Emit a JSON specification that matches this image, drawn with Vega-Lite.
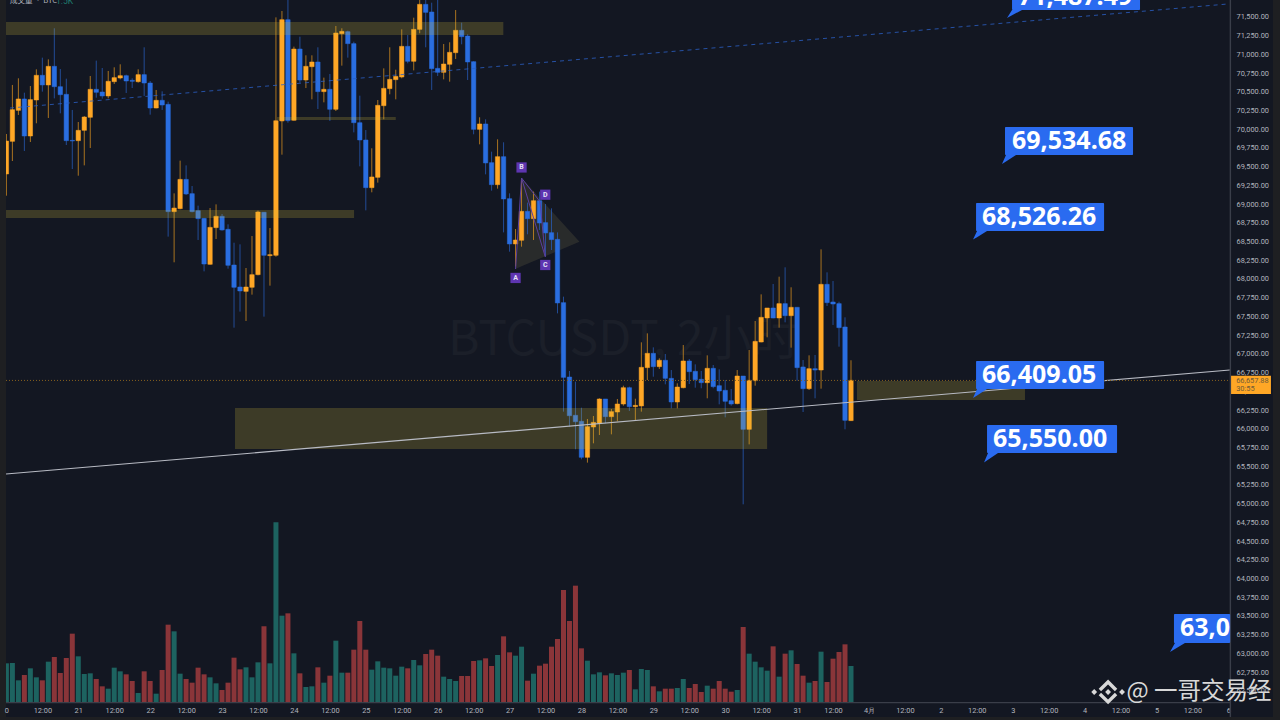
{"$schema":"https://vega.github.io/schema/vega-lite/v6.json","width":1267,"height":717,"autosize":"none","padding":{"left":6,"right":7,"top":0,"bottom":3},"background":"#1e1f22","config":{"view":{"fill":"#131722","stroke":null},"font":"Roboto"},
"datasets":{
"candles":[
{"t":"2024-03-20T00:00Z","o":69403,"h":69937,"l":69113,"c":69843,"v":118,"d":"up"},
{"t":"2024-03-20T02:00Z","o":69839,"h":70592,"l":69576,"c":70262,"v":119,"d":"up"},
{"t":"2024-03-20T04:00Z","o":70253,"h":70681,"l":70191,"c":70405,"v":67,"d":"up"},
{"t":"2024-03-20T06:00Z","o":70405,"h":70489,"l":69710,"c":69910,"v":83,"d":"down"},
{"t":"2024-03-20T08:00Z","o":69910,"h":70578,"l":69830,"c":70396,"v":103,"d":"up"},
{"t":"2024-03-20T10:00Z","o":70391,"h":70801,"l":70080,"c":70721,"v":76,"d":"up"},
{"t":"2024-03-20T12:00Z","o":70721,"h":70957,"l":70503,"c":70592,"v":67,"d":"down"},
{"t":"2024-03-20T14:00Z","o":70592,"h":70934,"l":70151,"c":70841,"v":123,"d":"up"},
{"t":"2024-03-20T16:00Z","o":70841,"h":71349,"l":70413,"c":70569,"v":137,"d":"down"},
{"t":"2024-03-20T18:00Z","o":70569,"h":70805,"l":70213,"c":70462,"v":89,"d":"down"},
{"t":"2024-03-20T20:00Z","o":70467,"h":70676,"l":69790,"c":69848,"v":134,"d":"down"},
{"t":"2024-03-20T22:00Z","o":69852,"h":70258,"l":69469,"c":69844,"v":207,"d":"down"},
{"t":"2024-03-21T00:00Z","o":69848,"h":70097,"l":69380,"c":69986,"v":139,"d":"up"},
{"t":"2024-03-21T02:00Z","o":69986,"h":70177,"l":69518,"c":70164,"v":86,"d":"up"},
{"t":"2024-03-21T04:00Z","o":70160,"h":70712,"l":69750,"c":70534,"v":88,"d":"up"},
{"t":"2024-03-21T06:00Z","o":70534,"h":70917,"l":70422,"c":70494,"v":71,"d":"down"},
{"t":"2024-03-21T08:00Z","o":70498,"h":70819,"l":70409,"c":70445,"v":49,"d":"down"},
{"t":"2024-03-21T10:00Z","o":70445,"h":70779,"l":70413,"c":70641,"v":42,"d":"up"},
{"t":"2024-03-21T12:00Z","o":70636,"h":70828,"l":70605,"c":70690,"v":105,"d":"up"},
{"t":"2024-03-21T14:00Z","o":70685,"h":70868,"l":70667,"c":70716,"v":94,"d":"up"},
{"t":"2024-03-21T16:00Z","o":70716,"h":70730,"l":70485,"c":70645,"v":85,"d":"down"},
{"t":"2024-03-21T18:00Z","o":70654,"h":70681,"l":70551,"c":70641,"v":65,"d":"down"},
{"t":"2024-03-21T20:00Z","o":70636,"h":70801,"l":70623,"c":70730,"v":29,"d":"up"},
{"t":"2024-03-21T22:00Z","o":70730,"h":71095,"l":70445,"c":70618,"v":94,"d":"down"},
{"t":"2024-03-22T00:00Z","o":70618,"h":70645,"l":70195,"c":70284,"v":65,"d":"down"},
{"t":"2024-03-22T02:00Z","o":70284,"h":70525,"l":70280,"c":70387,"v":27,"d":"up"},
{"t":"2024-03-22T04:00Z","o":70387,"h":70507,"l":70258,"c":70324,"v":98,"d":"down"},
{"t":"2024-03-22T06:00Z","o":70333,"h":70369,"l":68566,"c":68900,"v":234,"d":"down"},
{"t":"2024-03-22T08:00Z","o":68900,"h":69144,"l":68223,"c":68948,"v":214,"d":"up"},
{"t":"2024-03-22T10:00Z","o":68940,"h":69581,"l":68931,"c":69331,"v":87,"d":"up"},
{"t":"2024-03-22T12:00Z","o":69331,"h":69518,"l":69122,"c":69136,"v":71,"d":"down"},
{"t":"2024-03-22T14:00Z","o":69140,"h":69242,"l":68891,"c":68900,"v":60,"d":"down"},
{"t":"2024-03-22T16:00Z","o":68913,"h":68980,"l":68521,"c":68806,"v":105,"d":"down"},
{"t":"2024-03-22T18:00Z","o":68810,"h":68815,"l":68102,"c":68200,"v":85,"d":"down"},
{"t":"2024-03-22T20:00Z","o":68196,"h":68948,"l":68192,"c":68690,"v":76,"d":"up"},
{"t":"2024-03-22T22:00Z","o":68686,"h":68997,"l":68534,"c":68837,"v":58,"d":"up"},
{"t":"2024-03-23T00:00Z","o":68837,"h":68868,"l":68646,"c":68655,"v":38,"d":"down"},
{"t":"2024-03-23T02:00Z","o":68664,"h":68730,"l":68138,"c":68183,"v":60,"d":"down"},
{"t":"2024-03-23T04:00Z","o":68187,"h":68485,"l":67350,"c":67889,"v":135,"d":"down"},
{"t":"2024-03-23T06:00Z","o":67893,"h":68463,"l":67564,"c":67840,"v":100,"d":"down"},
{"t":"2024-03-23T08:00Z","o":67835,"h":68147,"l":67439,"c":67893,"v":106,"d":"up"},
{"t":"2024-03-23T10:00Z","o":67889,"h":68574,"l":67791,"c":68058,"v":76,"d":"up"},
{"t":"2024-03-23T12:00Z","o":68058,"h":68913,"l":68049,"c":68895,"v":121,"d":"up"},
{"t":"2024-03-23T14:00Z","o":68891,"h":68895,"l":67497,"c":68316,"v":229,"d":"down"},
{"t":"2024-03-23T16:00Z","o":68312,"h":68681,"l":67911,"c":68325,"v":118,"d":"up"},
{"t":"2024-03-23T18:00Z","o":68316,"h":71495,"l":68298,"c":70115,"v":541,"d":"up"},
{"t":"2024-03-23T20:00Z","o":70111,"h":71580,"l":69661,"c":71464,"v":261,"d":"up"},
{"t":"2024-03-23T22:00Z","o":71464,"h":71800,"l":70088,"c":70115,"v":268,"d":"down"},
{"t":"2024-03-24T00:00Z","o":70120,"h":71104,"l":70115,"c":71072,"v":148,"d":"up"},
{"t":"2024-03-24T02:00Z","o":71072,"h":71237,"l":70623,"c":70658,"v":88,"d":"down"},
{"t":"2024-03-24T04:00Z","o":70658,"h":70988,"l":70551,"c":70841,"v":47,"d":"up"},
{"t":"2024-03-24T06:00Z","o":70836,"h":70988,"l":70400,"c":70899,"v":49,"d":"up"},
{"t":"2024-03-24T08:00Z","o":70899,"h":71095,"l":70271,"c":70503,"v":106,"d":"down"},
{"t":"2024-03-24T10:00Z","o":70503,"h":70690,"l":70360,"c":70534,"v":60,"d":"up"},
{"t":"2024-03-24T12:00Z","o":70534,"h":70739,"l":70111,"c":70267,"v":81,"d":"down"},
{"t":"2024-03-24T14:00Z","o":70267,"h":71380,"l":70244,"c":71286,"v":186,"d":"up"},
{"t":"2024-03-24T16:00Z","o":71277,"h":71349,"l":70850,"c":71308,"v":90,"d":"up"},
{"t":"2024-03-24T18:00Z","o":71304,"h":71317,"l":70957,"c":71144,"v":90,"d":"down"},
{"t":"2024-03-24T20:00Z","o":71144,"h":71170,"l":69959,"c":70088,"v":159,"d":"down"},
{"t":"2024-03-24T22:00Z","o":70088,"h":70449,"l":69505,"c":69857,"v":245,"d":"down"},
{"t":"2024-03-25T00:00Z","o":69857,"h":69990,"l":68917,"c":69220,"v":159,"d":"down"},
{"t":"2024-03-25T02:00Z","o":69220,"h":69746,"l":69158,"c":69363,"v":99,"d":"up"},
{"t":"2024-03-25T04:00Z","o":69358,"h":70391,"l":69287,"c":70320,"v":124,"d":"up"},
{"t":"2024-03-25T06:00Z","o":70315,"h":70814,"l":70133,"c":70547,"v":105,"d":"up"},
{"t":"2024-03-25T08:00Z","o":70543,"h":71095,"l":70467,"c":70667,"v":103,"d":"up"},
{"t":"2024-03-25T10:00Z","o":70663,"h":70796,"l":70400,"c":70707,"v":81,"d":"up"},
{"t":"2024-03-25T12:00Z","o":70698,"h":71335,"l":70681,"c":71108,"v":108,"d":"up"},
{"t":"2024-03-25T14:00Z","o":71108,"h":71259,"l":70881,"c":70908,"v":103,"d":"down"},
{"t":"2024-03-25T16:00Z","o":70908,"h":71491,"l":70787,"c":71335,"v":128,"d":"up"},
{"t":"2024-03-25T18:00Z","o":71335,"h":71780,"l":71282,"c":71669,"v":112,"d":"up"},
{"t":"2024-03-25T20:00Z","o":71669,"h":71780,"l":71095,"c":71562,"v":146,"d":"down"},
{"t":"2024-03-25T22:00Z","o":71567,"h":71691,"l":70525,"c":70810,"v":159,"d":"down"},
{"t":"2024-03-26T00:00Z","o":70814,"h":71780,"l":70712,"c":70761,"v":141,"d":"down"},
{"t":"2024-03-26T02:00Z","o":70761,"h":71139,"l":70667,"c":70872,"v":78,"d":"up"},
{"t":"2024-03-26T04:00Z","o":70868,"h":71162,"l":70636,"c":71028,"v":71,"d":"up"},
{"t":"2024-03-26T06:00Z","o":71023,"h":71593,"l":70939,"c":71322,"v":65,"d":"up"},
{"t":"2024-03-26T08:00Z","o":71322,"h":71424,"l":71135,"c":71237,"v":80,"d":"down"},
{"t":"2024-03-26T10:00Z","o":71246,"h":71268,"l":70658,"c":70899,"v":80,"d":"down"},
{"t":"2024-03-26T12:00Z","o":70903,"h":70908,"l":69933,"c":69999,"v":125,"d":"down"},
{"t":"2024-03-26T14:00Z","o":69999,"h":70160,"l":69799,"c":70071,"v":127,"d":"up"},
{"t":"2024-03-26T16:00Z","o":70071,"h":70133,"l":69398,"c":69550,"v":133,"d":"down"},
{"t":"2024-03-26T18:00Z","o":69554,"h":69701,"l":69180,"c":69260,"v":110,"d":"down"},
{"t":"2024-03-26T20:00Z","o":69260,"h":69866,"l":69207,"c":69634,"v":143,"d":"up"},
{"t":"2024-03-26T22:00Z","o":69634,"h":69826,"l":68623,"c":69069,"v":199,"d":"down"},
{"t":"2024-03-27T00:00Z","o":69073,"h":69144,"l":68365,"c":68468,"v":151,"d":"down"},
{"t":"2024-03-27T02:00Z","o":68468,"h":68668,"l":68165,"c":68521,"v":141,"d":"up"},
{"t":"2024-03-27T04:00Z","o":68517,"h":69345,"l":68432,"c":68904,"v":168,"d":"up"},
{"t":"2024-03-27T06:00Z","o":68904,"h":69020,"l":68597,"c":68806,"v":66,"d":"down"},
{"t":"2024-03-27T08:00Z","o":68806,"h":69167,"l":68521,"c":69046,"v":87,"d":"up"},
{"t":"2024-03-27T10:00Z","o":69046,"h":69167,"l":68655,"c":68748,"v":111,"d":"down"},
{"t":"2024-03-27T12:00Z","o":68753,"h":69002,"l":68298,"c":68615,"v":117,"d":"down"},
{"t":"2024-03-27T14:00Z","o":68619,"h":68944,"l":68387,"c":68526,"v":168,"d":"down"},
{"t":"2024-03-27T16:00Z","o":68530,"h":68623,"l":67541,"c":67680,"v":191,"d":"down"},
{"t":"2024-03-27T18:00Z","o":67684,"h":67764,"l":66228,"c":66686,"v":338,"d":"down"},
{"t":"2024-03-27T20:00Z","o":66691,"h":66771,"l":66027,"c":66174,"v":245,"d":"down"},
{"t":"2024-03-27T22:00Z","o":66179,"h":66629,"l":65725,"c":66094,"v":351,"d":"down"},
{"t":"2024-03-28T00:00Z","o":66099,"h":66281,"l":65591,"c":65618,"v":163,"d":"down"},
{"t":"2024-03-28T02:00Z","o":65618,"h":66130,"l":65547,"c":66027,"v":126,"d":"up"},
{"t":"2024-03-28T04:00Z","o":66023,"h":66170,"l":65805,"c":66085,"v":85,"d":"up"},
{"t":"2024-03-28T06:00Z","o":66076,"h":66406,"l":65916,"c":66397,"v":91,"d":"up"},
{"t":"2024-03-28T08:00Z","o":66397,"h":66397,"l":66072,"c":66161,"v":82,"d":"down"},
{"t":"2024-03-28T10:00Z","o":66161,"h":66263,"l":65925,"c":66228,"v":88,"d":"up"},
{"t":"2024-03-28T12:00Z","o":66223,"h":66397,"l":66099,"c":66330,"v":83,"d":"up"},
{"t":"2024-03-28T14:00Z","o":66330,"h":66575,"l":66308,"c":66548,"v":90,"d":"up"},
{"t":"2024-03-28T16:00Z","o":66548,"h":66562,"l":66237,"c":66295,"v":98,"d":"down"},
{"t":"2024-03-28T18:00Z","o":66295,"h":66401,"l":66108,"c":66312,"v":40,"d":"up"},
{"t":"2024-03-28T20:00Z","o":66304,"h":67154,"l":66228,"c":66820,"v":101,"d":"up"},
{"t":"2024-03-28T22:00Z","o":66816,"h":67274,"l":66651,"c":67007,"v":98,"d":"up"},
{"t":"2024-03-29T00:00Z","o":67007,"h":67087,"l":66695,"c":66829,"v":49,"d":"down"},
{"t":"2024-03-29T02:00Z","o":66829,"h":66940,"l":66798,"c":66914,"v":34,"d":"up"},
{"t":"2024-03-29T04:00Z","o":66914,"h":66998,"l":66593,"c":66673,"v":42,"d":"down"},
{"t":"2024-03-29T06:00Z","o":66673,"h":66784,"l":66272,"c":66357,"v":42,"d":"down"},
{"t":"2024-03-29T08:00Z","o":66357,"h":66606,"l":66272,"c":66557,"v":44,"d":"up"},
{"t":"2024-03-29T10:00Z","o":66548,"h":67118,"l":66540,"c":66905,"v":71,"d":"up"},
{"t":"2024-03-29T12:00Z","o":66905,"h":66931,"l":66597,"c":66762,"v":44,"d":"down"},
{"t":"2024-03-29T14:00Z","o":66767,"h":66860,"l":66548,"c":66655,"v":56,"d":"down"},
{"t":"2024-03-29T16:00Z","o":66660,"h":66771,"l":66540,"c":66615,"v":32,"d":"down"},
{"t":"2024-03-29T18:00Z","o":66615,"h":66980,"l":66406,"c":66807,"v":51,"d":"up"},
{"t":"2024-03-29T20:00Z","o":66807,"h":66851,"l":66540,"c":66562,"v":42,"d":"down"},
{"t":"2024-03-29T22:00Z","o":66575,"h":66793,"l":66326,"c":66504,"v":65,"d":"down"},
{"t":"2024-03-30T00:00Z","o":66513,"h":66651,"l":66152,"c":66366,"v":42,"d":"down"},
{"t":"2024-03-30T02:00Z","o":66375,"h":66531,"l":66308,"c":66330,"v":33,"d":"down"},
{"t":"2024-03-30T04:00Z","o":66335,"h":66784,"l":66326,"c":66704,"v":38,"d":"up"},
{"t":"2024-03-30T06:00Z","o":66704,"h":66704,"l":64990,"c":65992,"v":227,"d":"down"},
{"t":"2024-03-30T08:00Z","o":65992,"h":67052,"l":65791,"c":66646,"v":147,"d":"up"},
{"t":"2024-03-30T10:00Z","o":66642,"h":67439,"l":66575,"c":67167,"v":123,"d":"up"},
{"t":"2024-03-30T12:00Z","o":67158,"h":67795,"l":67154,"c":67488,"v":106,"d":"up"},
{"t":"2024-03-30T14:00Z","o":67479,"h":67613,"l":67221,"c":67613,"v":96,"d":"up"},
{"t":"2024-03-30T16:00Z","o":67613,"h":67933,"l":67475,"c":67479,"v":169,"d":"down"},
{"t":"2024-03-30T18:00Z","o":67479,"h":68031,"l":67350,"c":67671,"v":78,"d":"up"},
{"t":"2024-03-30T20:00Z","o":67671,"h":68156,"l":67421,"c":67510,"v":147,"d":"down"},
{"t":"2024-03-30T22:00Z","o":67510,"h":67889,"l":67083,"c":67622,"v":157,"d":"up"},
{"t":"2024-03-31T00:00Z","o":67622,"h":67622,"l":66642,"c":66816,"v":116,"d":"down"},
{"t":"2024-03-31T02:00Z","o":66825,"h":66918,"l":66223,"c":66535,"v":81,"d":"down"},
{"t":"2024-03-31T04:00Z","o":66535,"h":66980,"l":66517,"c":66802,"v":60,"d":"up"},
{"t":"2024-03-31T06:00Z","o":66802,"h":66985,"l":66406,"c":66784,"v":65,"d":"down"},
{"t":"2024-03-31T08:00Z","o":66784,"h":68396,"l":66535,"c":67929,"v":153,"d":"up"},
{"t":"2024-03-31T10:00Z","o":67929,"h":68089,"l":67639,"c":67684,"v":62,"d":"down"},
{"t":"2024-03-31T12:00Z","o":67693,"h":67973,"l":67386,"c":67666,"v":132,"d":"down"},
{"t":"2024-03-31T14:00Z","o":67671,"h":67697,"l":67096,"c":67350,"v":152,"d":"down"},
{"t":"2024-03-31T16:00Z","o":67359,"h":67488,"l":65992,"c":66112,"v":175,"d":"down"},
{"t":"2024-03-31T18:00Z","o":66108,"h":66914,"l":66103,"c":66646,"v":110,"d":"up"}
],
"zones":[
{"t":"2024-03-19T23:52Z","t2":"2024-03-26T21:55Z","p":71433,"p2":71260},
{"t":"2024-03-19T23:52Z","t2":"2024-03-24T20:05Z","p":68922,"p2":68815},
{"t":"2024-03-23T18:20Z","t2":"2024-03-25T10:00Z","p":70164,"p2":70124},
{"t":"2024-03-23T04:20Z","t2":"2024-03-30T14:00Z","p":66277,"p2":65729},
{"t":"2024-03-31T20:00Z","t2":"2024-04-03T04:05Z","p":66638,"p2":66384}
],
"wedge":[
{"t":"2024-03-27T02:00Z","p":68134,"p2":68134},
{"t":"2024-03-27T04:00Z","p":69349,"p2":68169},
{"t":"2024-03-27T23:20Z","p":68498,"p2":68498}
],
"pattern":[
{"n":1,"t":"2024-03-27T02:00Z","p":68134},
{"n":2,"t":"2024-03-27T04:00Z","p":69349},
{"n":3,"t":"2024-03-27T11:55Z","p":68298},
{"n":4,"t":"2024-03-27T10:10Z","p":69033},
{"n":5,"t":"2024-03-27T04:00Z","p":69349}
],
"badges":[
{"t":"2024-03-27T02:00Z","p":68014,"txt":"A"},
{"t":"2024-03-27T04:00Z","p":69490,"txt":"B"},
{"t":"2024-03-27T11:55Z","p":68187,"txt":"C"},
{"t":"2024-03-27T11:55Z","p":69126,"txt":"D"}
],
"trendBlue":[
{"t":"2024-03-20T01:12Z","p":70284},
{"t":"2024-04-05T23:54Z","p":71674}
],
"trendWhite":[
{"t":"2024-03-19T23:52Z","p":65395},
{"t":"2024-04-06T00:30Z","p":66785}
],
"priceLine":[{"t":"2024-03-19T23:52Z","t2":"2024-04-06T00:36Z","p":66645}],
"priceBox":[{"t":"2024-04-06T00:54Z","t2":"2024-04-06T14:13Z","p":66708,"p2":66464}],
"priceText":[
{"t":"2024-04-06T02:36Z","p":66644,"txt":"66,657.88"},
{"t":"2024-04-06T02:36Z","p":66531,"txt":"30:55"}
],
"axisV":[{"t":"2024-04-06T00:40Z"}],
"axisH":[{"t":"2024-03-19T23:52Z","t2":"2024-04-06T00:40Z","v":0}],
"boxes":[
{"t":"2024-04-02T23:46Z","t2":"2024-04-04T18:30Z","p":71900,"p2":71594},
{"t":"2024-04-02T21:25Z","t2":"2024-04-04T16:10Z","p":70031,"p2":69657},
{"t":"2024-04-02T11:45Z","t2":"2024-04-04T06:30Z","p":69015,"p2":68641},
{"t":"2024-04-02T11:45Z","t2":"2024-04-04T06:30Z","p":66905,"p2":66531},
{"t":"2024-04-02T15:25Z","t2":"2024-04-04T10:50Z","p":66050,"p2":65676},
{"t":"2024-04-05T05:50Z","t2":"2024-04-06T00:35Z","p":63525,"p2":63138}
],
"tips":[
{"g":"a","t":"2024-04-02T22:06Z","p":71487,"p2":71487},
{"g":"a","t":"2024-04-02T23:46Z","p":71594,"p2":71523},
{"g":"a","t":"2024-04-03T03:06Z","p":71594,"p2":71594},
{"g":"b","t":"2024-04-02T20:25Z","p":69535,"p2":69535},
{"g":"b","t":"2024-04-02T21:45Z","p":69657,"p2":69570},
{"g":"b","t":"2024-04-03T01:06Z","p":69657,"p2":69657},
{"g":"c","t":"2024-04-02T10:45Z","p":68526,"p2":68526},
{"g":"c","t":"2024-04-02T12:05Z","p":68641,"p2":68559},
{"g":"c","t":"2024-04-02T15:25Z","p":68641,"p2":68641},
{"g":"d","t":"2024-04-02T10:45Z","p":66409,"p2":66409},
{"g":"d","t":"2024-04-02T12:05Z","p":66531,"p2":66444},
{"g":"d","t":"2024-04-02T15:25Z","p":66531,"p2":66531},
{"g":"e","t":"2024-04-02T14:25Z","p":65550,"p2":65550},
{"g":"e","t":"2024-04-02T15:45Z","p":65676,"p2":65586},
{"g":"e","t":"2024-04-02T19:05Z","p":65676,"p2":65676},
{"g":"f","t":"2024-04-05T04:30Z","p":63018,"p2":63018},
{"g":"f","t":"2024-04-05T06:10Z","p":63138,"p2":63058},
{"g":"f","t":"2024-04-05T09:30Z","p":63138,"p2":63138}
],
"boxText":[
{"t":"2024-04-03T01:46Z","p":71767,"txt":"71,487.49"},
{"t":"2024-04-02T23:46Z","p":69844,"txt":"69,534.68"},
{"t":"2024-04-02T13:45Z","p":68828,"txt":"68,526.26"},
{"t":"2024-04-02T13:45Z","p":66718,"txt":"66,409.05"},
{"t":"2024-04-02T17:25Z","p":65863,"txt":"65,550.00"},
{"t":"2024-04-05T07:50Z","p":63338,"txt":"63,0"}
],
"chevrons":[
{"g":"top","t":"2024-04-04T05:06Z","p":62510},
{"g":"top","t":"2024-04-04T07:50Z","p":62617},
{"g":"top","t":"2024-04-04T10:30Z","p":62510},
{"g":"bottom","t":"2024-04-04T05:06Z","p":62457},
{"g":"bottom","t":"2024-04-04T07:50Z","p":62350},
{"g":"bottom","t":"2024-04-04T10:30Z","p":62457}
],
"diamonds":[
{"t":"2024-04-04T03:12Z","p":62483},
{"t":"2024-04-04T07:50Z","p":62483},
{"t":"2024-04-04T12:30Z","p":62483}
]
},
"resolve":{"scale":{"y":"independent"},"axis":{"y":"independent"}},
"encoding":{"x":{"field":"t","type":"temporal","title":null,"scale":{"type":"utc","padding":0,"domain":[1710892320000,1712415240000]},"axis":{"orient":"bottom","offset":-14,"domain":false,"ticks":false,"grid":false,"values":[1710892800000,1710936000000,1710979200000,1711022400000,1711065600000,1711108800000,1711152000000,1711195200000,1711238400000,1711281600000,1711324800000,1711368000000,1711411200000,1711454400000,1711497600000,1711540800000,1711584000000,1711627200000,1711670400000,1711713600000,1711756800000,1711800000000,1711843200000,1711886400000,1711929600000,1711972800000,1712016000000,1712059200000,1712102400000,1712145600000,1712188800000,1712232000000,1712275200000,1712318400000,1712361600000],"labelOverlap":false,"labelFlush":false,"labelPadding":3,"labelFontSize":7.4,"labelColor":"#b2b5be","labelExpr":"utchours(datum.value)===12 ? '12:00' : (utcdate(datum.value)===1 ? '4月' : (utcdate(datum.value)===20 ? '0' : '' + utcdate(datum.value)))"}}},
"layer":[
{"data":{"name":"candles"},"mark":{"type":"bar","size":5,"clip":true},"encoding":{"y":{"field":"v","type":"quantitative","stack":null,"axis":null,"scale":{"domain":[-43,2108],"nice":false,"zero":false}},"color":{"condition":{"test":"datum.d==='up'","value":"#1d6360"},"value":"#8a3539"}}},
{"data":{"name":"axisH","format":{"parse":{"t2":"date"}}},"mark":{"type":"rule","color":"#3a3e49","strokeWidth":1.4},"encoding":{"x2":{"field":"t2"},"y":{"field":"v","type":"quantitative","axis":null,"scale":{"domain":[-43,2108],"nice":false,"zero":false}}}},
{"data":{"values":[{"t":"2024-03-26T03:25Z","p":67172,"txt":"BTCUSDT, 2小时"}]},"mark":{"type":"text","align":"left","baseline":"middle","font":"Noto Sans CJK SC","fontSize":48,"color":"#1b1f29"},"encoding":{"y":{"field":"p","type":"quantitative","title":null,"scale":{"domain":[62149,71727],"nice":false,"zero":false},"axis":{"orient":"right","offset":-42,"domain":false,"ticks":false,"grid":false,"labelPadding":5,"labelFontSize":7.4,"labelColor":"#b2b5be","format":",.2f","labelFlush":false,"labelOverlap":false,"values":[62500,62750,63000,63250,63500,63750,64000,64250,64500,64750,65000,65250,65500,65750,66000,66250,66500,66750,67000,67250,67500,67750,68000,68250,68500,68750,69000,69250,69500,69750,70000,70250,70500,70750,71000,71250,71500]}},"text":{"field":"txt"}}},
{"data":{"name":"wedge"},"mark":{"type":"area","color":"#cfc070","opacity":0.12},"encoding":{"y":{"field":"p","type":"quantitative","axis":null,"scale":{"domain":[62149,71727],"nice":false,"zero":false}},"y2":{"field":"p2"}}},
{"data":{"name":"candles"},"mark":{"type":"rule","strokeWidth":1,"opacity":0.7,"clip":true},"encoding":{"y":{"field":"l","type":"quantitative","axis":null,"scale":{"domain":[62149,71727],"nice":false,"zero":false}},"y2":{"field":"h"},"color":{"condition":{"test":"datum.d==='up'","value":"#e89a20"},"value":"#2a63c8"}}},
{"data":{"name":"candles"},"mark":{"type":"bar","size":4.4,"strokeWidth":0.5,"clip":true},"encoding":{"y":{"field":"o","type":"quantitative","axis":null,"scale":{"domain":[62149,71727],"nice":false,"zero":false}},"y2":{"field":"c"},"color":{"condition":{"test":"datum.d==='up'","value":"#ffa726"},"value":"#2a6ee0"},"stroke":{"condition":{"test":"datum.d==='up'","value":"#ffa726"},"value":"#2a6ee0"}}},
{"data":{"name":"zones","format":{"parse":{"t2":"date"}}},"mark":{"type":"rect","color":"#d7be3c","opacity":0.22,"clip":true},"encoding":{"x2":{"field":"t2"},"y":{"field":"p","type":"quantitative","axis":null,"scale":{"domain":[62149,71727],"nice":false,"zero":false}},"y2":{"field":"p2"}}},
{"data":{"name":"trendBlue"},"mark":{"type":"line","color":"#2a5fc4","strokeWidth":1,"strokeDash":[4,4],"opacity":0.8},"encoding":{"y":{"field":"p","type":"quantitative","axis":null,"scale":{"domain":[62149,71727],"nice":false,"zero":false}}}},
{"data":{"name":"trendWhite"},"mark":{"type":"line","color":"#b8bbc4","strokeWidth":1.1},"encoding":{"y":{"field":"p","type":"quantitative","axis":null,"scale":{"domain":[62149,71727],"nice":false,"zero":false}}}},
{"data":{"name":"priceLine","format":{"parse":{"t2":"date"}}},"mark":{"type":"rule","color":"#85601f","strokeWidth":1,"strokeDash":[1,2]},"encoding":{"x2":{"field":"t2"},"y":{"field":"p","type":"quantitative","axis":null,"scale":{"domain":[62149,71727],"nice":false,"zero":false}}}},
{"data":{"name":"axisV"},"mark":{"type":"rule","color":"#3a3e49","strokeWidth":1.4},"encoding":{}},
{"data":{"name":"pattern"},"mark":{"type":"line","color":"#5b3fa0","strokeWidth":1},"encoding":{"y":{"field":"p","type":"quantitative","axis":null,"scale":{"domain":[62149,71727],"nice":false,"zero":false}},"order":{"field":"n"}}},
{"data":{"name":"badges"},"mark":{"type":"point","shape":"square","filled":true,"size":105,"color":"#5e35b1","opacity":1},"encoding":{"y":{"field":"p","type":"quantitative","axis":null,"scale":{"domain":[62149,71727],"nice":false,"zero":false}}}},
{"data":{"name":"badges"},"mark":{"type":"text","fontSize":7,"color":"#e6e0f5","fontWeight":"bold"},"encoding":{"y":{"field":"p","type":"quantitative","axis":null,"scale":{"domain":[62149,71727],"nice":false,"zero":false}},"text":{"field":"txt"}}},
{"data":{"name":"boxes","format":{"parse":{"t2":"date"}}},"mark":{"type":"rect","color":"#2a6bf0","cornerRadius":1},"encoding":{"x2":{"field":"t2"},"y":{"field":"p","type":"quantitative","axis":null,"scale":{"domain":[62149,71727],"nice":false,"zero":false}},"y2":{"field":"p2"}}},
{"data":{"name":"tips"},"mark":{"type":"area","color":"#2a6bf0"},"encoding":{"y":{"field":"p","type":"quantitative","axis":null,"scale":{"domain":[62149,71727],"nice":false,"zero":false}},"y2":{"field":"p2"},"detail":{"field":"g"}}},
{"data":{"name":"boxText"},"mark":{"type":"text","align":"left","baseline":"middle","font":"Open Sans","fontWeight":"bold","fontSize":25,"color":"#ffffff"},"encoding":{"y":{"field":"p","type":"quantitative","axis":null,"scale":{"domain":[62149,71727],"nice":false,"zero":false}},"text":{"field":"txt"}}},
{"data":{"name":"priceBox","format":{"parse":{"t2":"date"}}},"mark":{"type":"rect","color":"#ffa726"},"encoding":{"x2":{"field":"t2"},"y":{"field":"p","type":"quantitative","axis":null,"scale":{"domain":[62149,71727],"nice":false,"zero":false}},"y2":{"field":"p2"}}},
{"data":{"name":"priceText"},"mark":{"type":"text","align":"left","baseline":"middle","fontSize":7.4,"color":"#6e5a38"},"encoding":{"y":{"field":"p","type":"quantitative","axis":null,"scale":{"domain":[62149,71727],"nice":false,"zero":false}},"text":{"field":"txt"}}},
{"data":{"values":[{"t":"2024-03-20T01:12Z","p":71714,"txt":"成交量 · BTC"}]},"mark":{"type":"text","align":"left","baseline":"middle","font":"Noto Sans CJK SC","fontSize":7.5,"color":"#b2b5be"},"encoding":{"y":{"field":"p","type":"quantitative","axis":null,"scale":{"domain":[62149,71727],"nice":false,"zero":false}},"text":{"field":"txt"}}},
{"data":{"values":[{"t":"2024-03-20T16:35Z","p":71714,"txt":"1.5K"}]},"mark":{"type":"text","align":"left","baseline":"middle","fontSize":8.5,"color":"#1f7a6e"},"encoding":{"y":{"field":"p","type":"quantitative","axis":null,"scale":{"domain":[62149,71727],"nice":false,"zero":false}},"text":{"field":"txt"}}},
{"data":{"name":"chevrons"},"mark":{"type":"line","color":"#d8d8d8","strokeWidth":3.4},"encoding":{"y":{"field":"p","type":"quantitative","axis":null,"scale":{"domain":[62149,71727],"nice":false,"zero":false}},"detail":{"field":"g"}}},
{"data":{"name":"diamonds"},"mark":{"type":"point","shape":"diamond","filled":true,"size":34,"color":"#d8d8d8","opacity":1},"encoding":{"y":{"field":"p","type":"quantitative","axis":null,"scale":{"domain":[62149,71727],"nice":false,"zero":false}}}},
{"data":{"values":[{"t":"2024-04-04T14:00Z","p":62483,"txt":"@ 一哥交易经"}]},"mark":{"type":"text","align":"left","baseline":"middle","font":"Noto Sans CJK SC","fontSize":23.5,"color":"#d8d8d8"},"encoding":{"y":{"field":"p","type":"quantitative","axis":null,"scale":{"domain":[62149,71727],"nice":false,"zero":false}},"text":{"field":"txt"}}}
]}
